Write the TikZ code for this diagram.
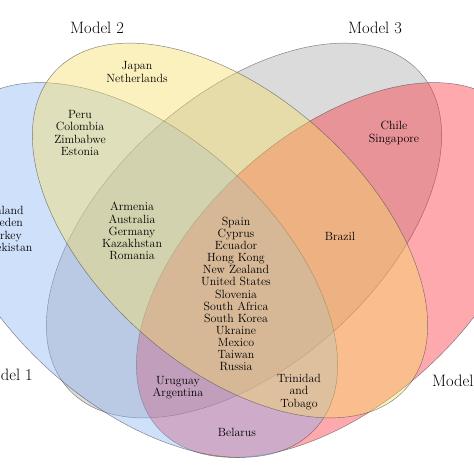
\documentclass[tikz,border=0pt]{standalone}
\definecolor{cA}{RGB}{137,178,243}
\definecolor{cB}{RGB}{247,222,97}
\definecolor{cC}{RGB}{167,167,167}
\definecolor{cD}{RGB}{250,40,52}
\tikzset{
  setshape/.style={fill opacity=0.4, draw=black!70, draw opacity=0.7, line width=0.45pt},
  lbl/.style={align=center, inner sep=0pt, font=\fontsize{11.9}{12.1}\selectfont},
  modellbl/.style={inner sep=0pt, font=\fontsize{16.5}{19}\selectfont}
}
\begin{document}
\begin{tikzpicture}[x=1pt,y=1pt]
\useasboundingbox (0,0) rectangle (474,474);
\clip (0,0) rectangle (474,474);
\fill[white] (0,0) rectangle (474,474);
% drawing order: gray, red, blue, yellow
\path[setshape, fill=cC] (244,243.5) ellipse [x radius=236.5, y radius=135, rotate=42];
\path[setshape, fill=cD] (334,204) ellipse [x radius=236.5, y radius=135, rotate=42];
\path[setshape, fill=cA] (140,204) ellipse [x radius=236.5, y radius=135, rotate=-42];
\path[setshape, fill=cB] (230,243.5) ellipse [x radius=236.5, y radius=135, rotate=-42];

\node[lbl] (onlyA) at (4,245) {Finland\\Sweden\\Turkey\\Uzbekistan};
\node[lbl] (onlyB) at (137,402) {Japan\\Netherlands};
\node[lbl] (AB) at (80,341) {Peru\\Colombia\\Zimbabwe\\Estonia};
\node[lbl] (ABC) at (132,243) {Armenia\\Australia\\Germany\\Kazakhstan\\Romania};
\node[lbl] (ABCD) at (236,180) {Spain\\Cyprus\\Ecuador\\Hong Kong\\New Zealand\\United States\\Slovenia\\South Africa\\South Korea\\Ukraine\\Mexico\\Taiwan\\Russia};
\node[lbl] (BCD) at (340,238) {Brazil};
\node[lbl] (CD) at (394,341) {Chile\\Singapore};
\node[lbl] (ACD) at (178,86) {Uruguay\\Argentina};
\node[lbl] (ABD) at (299,82) {Trinidad\\and\\Tobago};
\node[lbl] (AD) at (237,42) {Belarus};

\node[modellbl, anchor=base] (m2) at (97,440) {Model 2};
\node[modellbl, anchor=base] (m3) at (375,440) {Model 3};
\node[modellbl, anchor=base east] (m1) at (33,93) {Model 1};
\node[modellbl, anchor=base west] (m4) at (432,87) {Model 4};
\end{tikzpicture}
\end{document}
